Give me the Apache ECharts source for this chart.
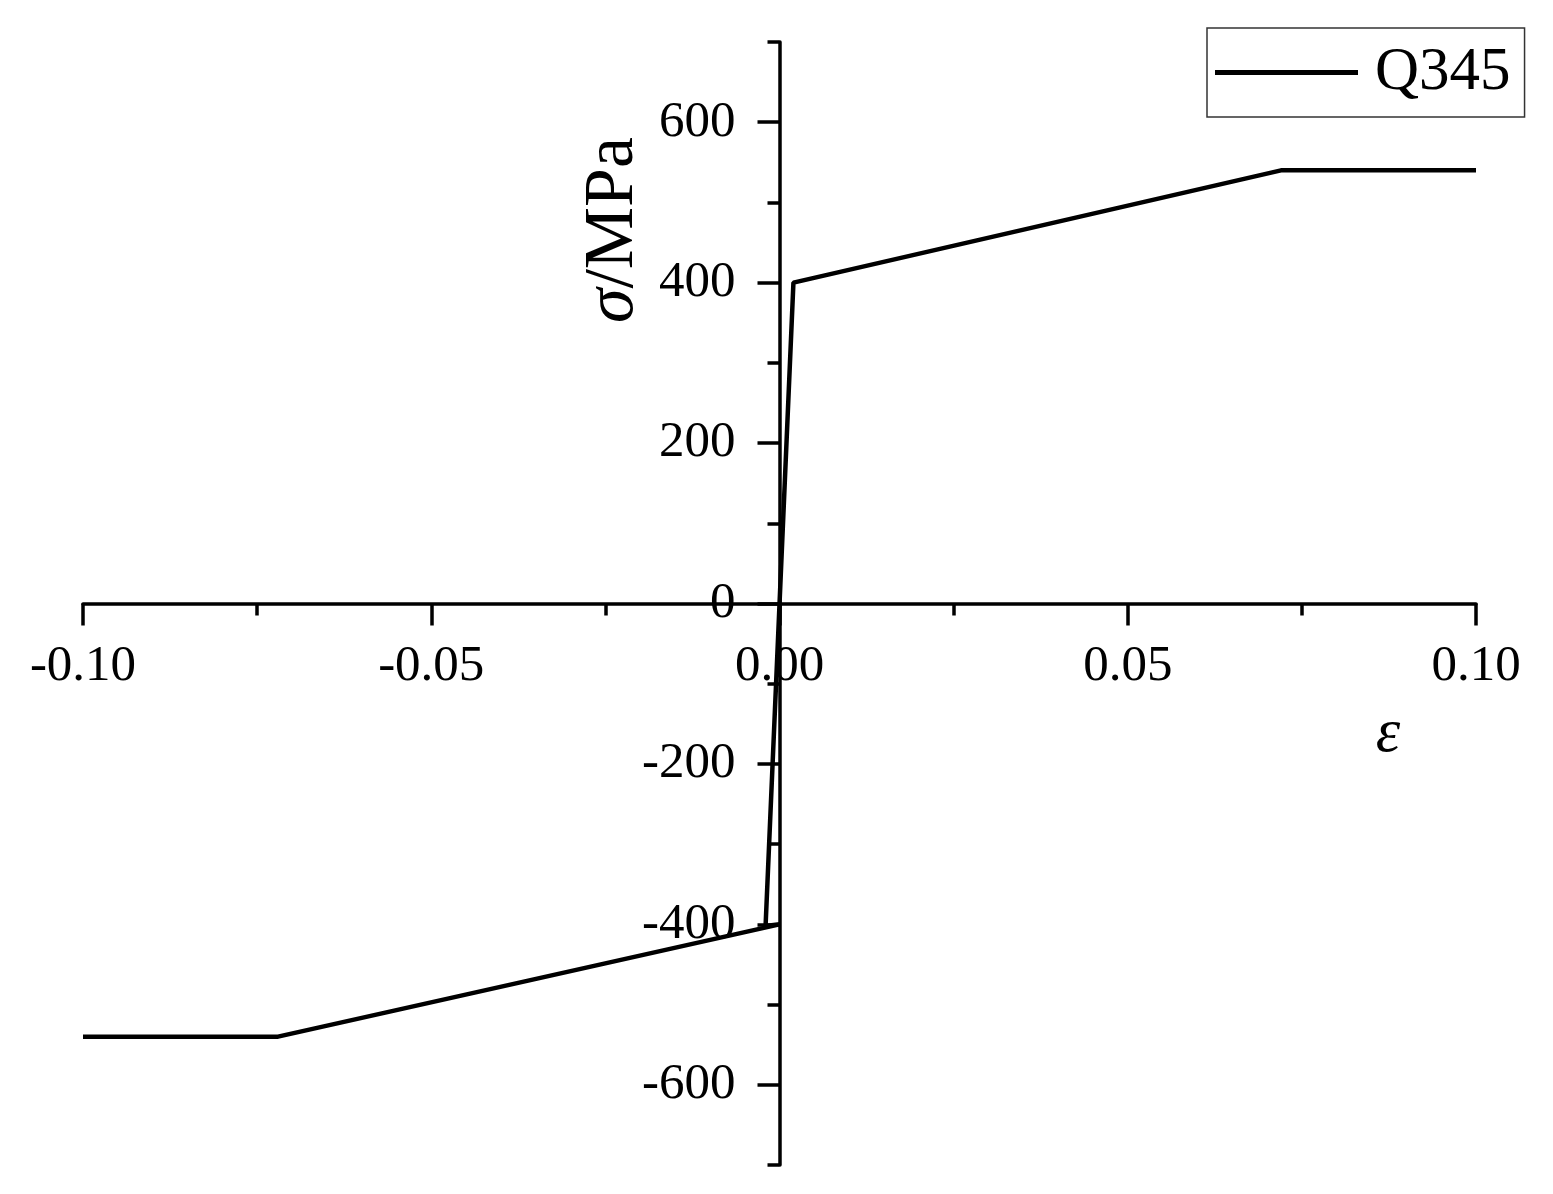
<!DOCTYPE html>
<html>
<head>
<meta charset="utf-8">
<script src="https://cdn.jsdelivr.net/npm/echarts@6/dist/echarts.min.js"></script>
<style>html,body{margin:0;padding:0;background:#fff;}#c{width:1553px;height:1194px;}</style>
</head>
<body>
<div id="c"></div>
<script>
// Data
var seriesName = 'Q345';
var strain = [-0.1, -0.072, 0, -0.002, 0.002, 0.072, 0.1];
var stress = [-540, -540, -400, -402, 400, 540, 540];
var yMajorTicks = [-600, -400, -200, 0, 200, 400, 600];
var yMinorTicks = [-700, -500, -300, -100, 100, 300, 500, 700];

var points = strain.map(function (x, i) { return [x, stress[i]]; });
var FONT = '"Liberation Serif", "Times New Roman", serif';

var GRID = { left: 83, right: 77, top: 42, bottom: 29 };
var W = 1553, H = 1194;
// pixel offsets that put the axes through the origin (from the grid, not the data)
var xAxisOffset = -((H - GRID.top - GRID.bottom) / 2);
var yAxisOffset = -((W - GRID.left - GRID.right) / 2);
var AX = { color: '#000', width: 3.5 };

var chart = echarts.init(document.getElementById('c'));
chart.setOption({
  animation: false,
  backgroundColor: '#fff',
  grid: { left: GRID.left, right: GRID.right, top: GRID.top, bottom: GRID.bottom, containLabel: false, outerBoundsMode: 'none' },
  legend: {
    left: 1207, top: 28,
    padding: [14, 14, 14, 8],
    borderColor: '#333', borderWidth: 1.5,
    icon: 'rect', itemWidth: 143, itemHeight: 5,
    textStyle: { fontFamily: FONT, fontSize: 61, color: '#000', padding: [0, 0, 0, 12] },
    data: [seriesName]
  },
  xAxis: {
    type: 'value', min: -0.1, max: 0.1, interval: 0.05, position: 'bottom', offset: xAxisOffset,
    axisLine: { onZero: false, lineStyle: AX },
    axisTick: { show: true, length: 22, lineStyle: AX },
    minorTick: { show: true, splitNumber: 2, length: 12, lineStyle: AX },
    axisLabel: { fontFamily: FONT, fontSize: 51, color: '#000', margin: 38, showMinLabel: true, showMaxLabel: true,
      formatter: function (v) { return v.toFixed(2); } },
    splitLine: { show: false }
  },
  yAxis: [{
    type: 'value', min: -700, max: 700, interval: 100, position: 'left', offset: yAxisOffset,
    axisLine: { onZero: false, lineStyle: AX },
    axisTick: { show: true, length: 22, customValues: yMajorTicks, lineStyle: AX },
    axisLabel: { fontFamily: FONT, fontSize: 51, color: '#000', margin: 44, customValues: yMajorTicks },
    splitLine: { show: false }
  }, {
    type: 'value', min: -700, max: 700, interval: 100, position: 'left', offset: yAxisOffset,
    axisLine: { show: false, onZero: false },
    axisTick: { show: true, length: 12, customValues: yMinorTicks, lineStyle: AX },
    axisLabel: { show: false },
    splitLine: { show: false }
  }],
  graphic: [{
    type: 'text', x: 614, y: 230, rotation: Math.PI / 2,
    style: {
      text: '{i|σ}/MPa', fontFamily: FONT, fontSize: 70, fill: '#000',
      align: 'center', verticalAlign: 'middle',
      rich: { i: { fontStyle: 'italic', fontFamily: FONT, fontSize: 70, fill: '#000' } }
    }
  }, {
    type: 'text', x: 1388, y: 735,
    style: { text: 'ε', fontFamily: FONT, fontStyle: 'italic', fontSize: 62, fill: '#000',
      align: 'center', verticalAlign: 'middle' }
  }],
  series: [{
    name: seriesName, type: 'line', data: points, yAxisIndex: 0,
    symbol: 'none', lineStyle: { color: '#000', width: 4.5 }, itemStyle: { color: '#000' }
  }]
});
</script>
</body>
</html>
